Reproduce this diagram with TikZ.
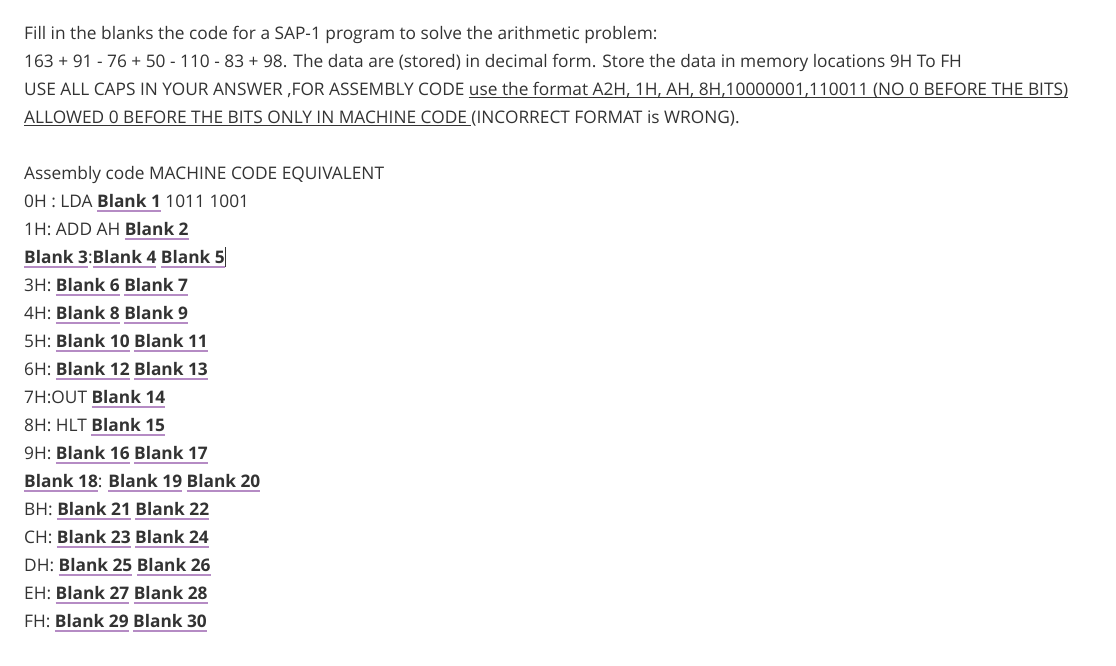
\documentclass[tikz,border=0pt]{standalone}
\usepackage{fontspec}
\setmainfont{Open Sans}
\definecolor{txt}{HTML}{333333}
\definecolor{ul}{HTML}{B58BC4}
\newcommand\bl[1]{\setbox0\hbox{\textbf{Blank #1}}\rlap{\textcolor{ul}{\rule[-5pt]{\wd0}{1.8pt}}}\box0\relax}
\newcommand\myul[1]{\setbox0\hbox{#1}\rlap{\rule[-3pt]{\wd0}{0.8pt}}\box0\relax}
\begin{document}
\begin{tikzpicture}[x=1pt,y=-1pt,every node/.style={anchor=base west,inner sep=0pt,text=txt,font=\fontsize{17.3}{20}\selectfont}]
\useasboundingbox[fill=white] (0,0) rectangle (1116,665);
\node (l1) at (24,39) {Fill in the blanks the code for a SAP-1 program to solve the arithmetic problem:};
\node (l2) at (24,67) {163 + 91 - 76 + 50 - 110 - 83 + 98. The data are (stored) in decimal form. Store the data in memory locations 9H To FH};
\node (l3) at (24,95) {USE ALL CAPS IN YOUR ANSWER ,FOR ASSEMBLY CODE \myul{use the format A2H, 1H, AH, 8H,10000001,110011 (NO 0 BEFORE THE BITS)}};
\node (l4) at (24,123) {\myul{ALLOWED 0 BEFORE THE BITS ONLY IN MACHINE CODE }(INCORRECT FORMAT is WRONG).};
\node (h) at (24,179) {Assembly code MACHINE CODE EQUIVALENT};
\node (r0) at (24,207) {0H : LDA \bl{1} 1011 1001};
\node (r1) at (24,235) {1H: ADD AH \bl{2}};
\node (r2) at (24,263) {\bl{3}:\bl{4} \bl{5}\rule[-4pt]{0.7pt}{20pt}};
\node (r3) at (24,291) {3H: \bl{6} \bl{7}};
\node (r4) at (24,319) {4H: \bl{8} \bl{9}};
\node (r5) at (24,347) {5H: \bl{10} \bl{11}};
\node (r6) at (24,375) {6H: \bl{12} \bl{13}};
\node (r7) at (24,403) {7H:OUT \bl{14}};
\node (r8) at (24,431) {8H: HLT \bl{15}};
\node (r9) at (24,459) {9H: \bl{16} \bl{17}};
\node (ra) at (24,487) {\bl{18}: \bl{19} \bl{20}};
\node (rb) at (24,515) {BH: \bl{21} \bl{22}};
\node (rc) at (24,543) {CH: \bl{23} \bl{24}};
\node (rd) at (24,571) {DH: \bl{25} \bl{26}};
\node (re) at (24,599) {EH: \bl{27} \bl{28}};
\node (rf) at (24,627) {FH: \bl{29} \bl{30}};
\end{tikzpicture}
\end{document}
